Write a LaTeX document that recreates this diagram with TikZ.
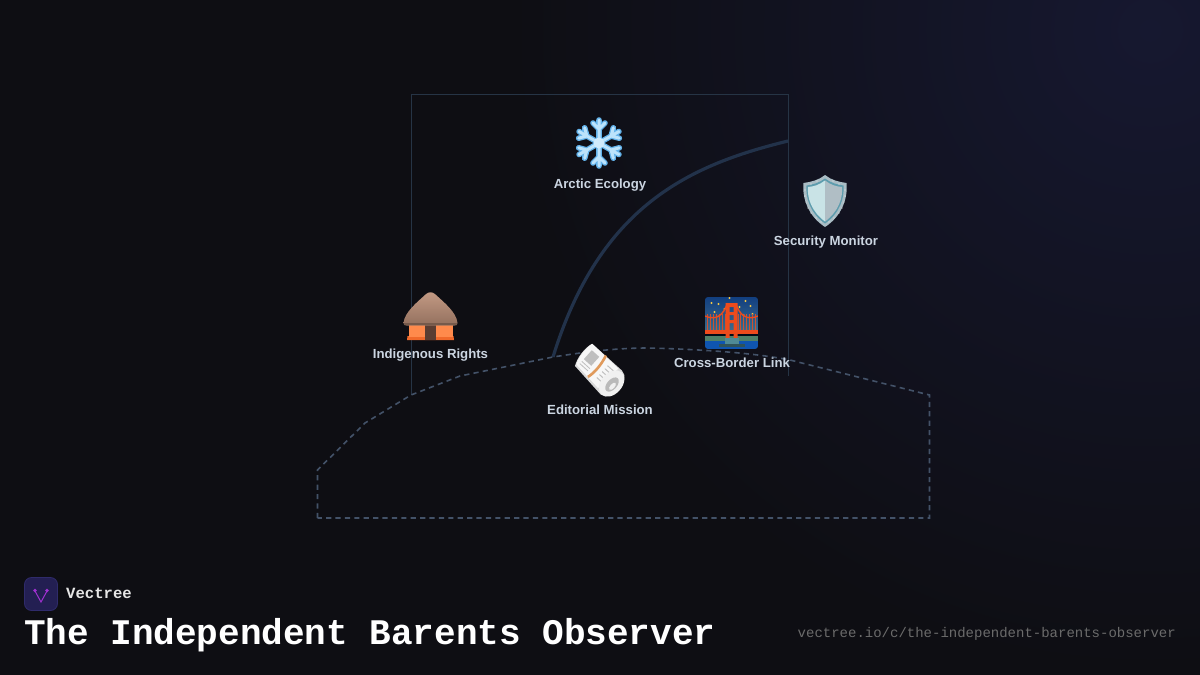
\documentclass[tikz,border=0pt]{standalone}
\usepackage{fontspec}
\setmainfont{Liberation Sans}
\setmonofont{Liberation Mono}
\usetikzlibrary{positioning}
\definecolor{pagebg}{HTML}{0E0E13}
\definecolor{glowblue}{HTML}{161830}
\definecolor{framecol}{HTML}{263445}
\definecolor{curvecol}{HTML}{22324A}
\definecolor{dashcol}{HTML}{435268}
\definecolor{labelcol}{HTML}{CBD5E1}
\definecolor{flakeout}{HTML}{62B2EA}
\definecolor{flakein}{HTML}{BCE3FB}
\definecolor{bridgered}{HTML}{EE4B1C}
\definecolor{skytop}{HTML}{123F80}
\definecolor{skylow}{HTML}{3F6F8C}
\definecolor{bankcol}{HTML}{4E8068}
\definecolor{watercol}{HTML}{0F55B0}
\definecolor{piercol}{HTML}{4F8A96}
\definecolor{starcol}{HTML}{F6C945}
\definecolor{hutroof}{HTML}{C39A84}
\definecolor{hutlow}{HTML}{93705E}
\definecolor{hutwall}{HTML}{FF8A4C}
\definecolor{hutbase}{HTML}{F0692B}
\definecolor{hutdoor}{HTML}{5A3D32}
\definecolor{shieldrim}{HTML}{A9BCC4}
\definecolor{shieldline}{HTML}{5D9CAD}
\definecolor{shieldleft}{HTML}{C9E3E6}
\definecolor{shieldright}{HTML}{B0BEC5}
\definecolor{logofill}{HTML}{231F52}
\definecolor{logoline}{HTML}{2F2B6B}
\definecolor{logotree}{HTML}{A030D0}
\definecolor{paperband}{HTML}{E09A5C}
\tikzset{
  frameline/.style={draw=framecol,line width=1pt},
  curveline/.style={draw=curvecol,line width=3.2pt},
  dashline/.style={draw=dashcol,line width=1.6pt,dash pattern=on 5.2pt off 4.2pt},
  iconlabel/.style={anchor=base,text=labelcol,font=\fontsize{13.2}{15}\selectfont\bfseries,inner sep=0pt},
  pics/flake/.style={code={
    \foreach \a in {30,90,150,210,270,330} {
      \begin{scope}[rotate=\a]
        \draw[flakeout,line width=5.6pt,line cap=round] (0,0) -- (23,0) (14,0) -- (20,6) (14,0) -- (20,-6);
      \end{scope}
    }
    \foreach \a in {30,90,150,210,270,330} {
      \begin{scope}[rotate=\a]
        \draw[flakein,line width=3pt,line cap=round] (0,0) -- (23,0) (14,0) -- (20,6) (14,0) -- (20,-6);
      \end{scope}
    }
    \fill[flakein!70!white] (0,0) circle (5.5);
  }},
  pics/shield/.style={code={
    \fill[shieldrim] (0,-26) .. controls (6,-21) and (14,-19) .. (21.5,-18) .. controls (23,-3) and (17,15) .. (0,26) .. controls (-17,15) and (-23,-3) .. (-21.5,-18) .. controls (-14,-19) and (-6,-21) .. (0,-26) -- cycle;
    \fill[shieldline] (0,-22.5) .. controls (6,-18) and (12,-16.5) .. (18.5,-15.5) .. controls (19.5,-3) and (15,12) .. (0,22.5) .. controls (-15,12) and (-19.5,-3) .. (-18.5,-15.5) .. controls (-12,-16.5) and (-6,-18) .. (0,-22.5) -- cycle;
    \fill[shieldleft] (0,-20.5) .. controls (-6,-16) and (-11,-14.5) .. (-17,-14) .. controls (-18,-3) and (-13.5,10.5) .. (0,20.5) -- cycle;
    \fill[shieldright] (0,-20.5) .. controls (6,-16) and (11,-14.5) .. (17,-14) .. controls (18,-3) and (13.5,10.5) .. (0,20.5) -- cycle;
    \foreach \x/\y in {-20/-11,-20/-5,-19/1,-17/7,-14/12,-9/17,-4/21,20/-11,20/-5,19/1,17/7,14/12,9/17,4/21,-14/-17,-8/-20,14/-17,8/-20}
      \fill[white!85!gray] (\x,\y) circle (.55);
  }},
  pics/bridge/.style={code={
    \begin{scope}
      \clip[rounded corners=3pt] (-26.5,-26) rectangle (26.5,26);
      \shade[top color=skytop,bottom color=skylow] (-26.5,-26) rectangle (26.5,10);
      \fill[bankcol] (-26.5,11) rectangle (26.5,18);
      \fill[black!80!skytop] (-26.5,11) rectangle (26.5,13);
      \fill[watercol] (-26.5,18) rectangle (26.5,26);
      \foreach \x/\y in {-17/-11,-20/-20,-7/-14,14/-22,19/-17,8/-16,-2/-25,12/-8,-13/-19,21/-9} \fill[starcol] (\x,\y) circle (1.2);
      \foreach \x in {-24,-21,-18,-15,-12,-9,-6.5,6.5,9,12,15,18,21,24} \draw[bridgered!80!skylow,line width=.8pt] (\x,-9) -- (\x,7);
      \draw[bridgered,line width=1.4pt] (-26.5,-7) .. controls (-15,-2) and (-8,-8) .. (-4,-20) (26.5,-7) .. controls (15,-2) and (8,-8) .. (4,-20);
      \fill[bridgered] (-26.5,6.5) rectangle (26.5,11);
      \fill[bridgered] (-6,-20) rectangle (-2,16) (2,-20) rectangle (6,16);
      \fill[bridgered] (-3,-20) rectangle (3,-16) (-3,-11) rectangle (3,-8) (-3,-3) rectangle (3,0);
      \fill[piercol] (-7,15) rectangle (7,21);
      \fill[piercol!60!black] (-13,21) rectangle (13,23.5);
    \end{scope}
  }},
  pics/hut/.style={code={
    \fill[hutbase] (-23.5,24) -- (23.5,24) -- (23,20) -- (-23,20) -- cycle;
    \fill[hutwall] (-22,8) rectangle (22,21);
    \fill[hutdoor] (-5.5,8) rectangle (5.5,24);
    \shade[top color=hutroof,bottom color=hutlow] (-27,7) .. controls (-26,-4) and (-13,-14) .. (-5,-21.5) .. controls (-2,-24.5) and (2,-24.5) .. (5,-21.5) .. controls (13,-14) and (26,-4) .. (27,7) .. controls (27,9) and (26,9.5) .. (24,9.5) -- (-24,9.5) .. controls (-26,9.5) and (-27,9) .. (-27,7) -- cycle;
    \fill[hutlow!80!black] (-26.5,7) rectangle (26.5,9.3);
  }},
  pics/paper/.style={code={
    \fill[gray!30!white] (-24,-15) -- (16,-15) .. controls (30,-14) and (30,16) .. (16,17) -- (-22,13) .. controls (-26,5) and (-27,-8) .. (-24,-15) -- cycle;
    \fill[white!94!gray] (-24,-15) -- (12,-14) -- (10,14) -- (-22,11) .. controls (-25,5) and (-26,-8) .. (-24,-15) -- cycle;
    \fill[gray!50!white] (-20,-10) rectangle (-10,2);
    \foreach \y in {-9,-5,-1,3,7} \draw[gray!50!white,line width=1pt] (2,\y) -- (11,\y);
    \foreach \y in {5,8} \draw[gray!50!white,line width=.8pt] (-20,\y) -- (-9,\y);
    \draw[paperband,line width=2.6pt] (-6,-15.5) .. controls (-3,-5) and (-3,5) .. (-5,12.5);
    \fill[white!88!gray] (17,1.5) ellipse (10.5 and 15);
    \fill[gray!55!white] (18,2) ellipse (5 and 8.5);
    \fill[white!88!gray] (19.5,3) ellipse (2.2 and 4.5);
  }},
  pics/treelogo/.style={code={
    \draw[logotree,line width=1pt] (-6,-3) -- (0,8) -- (6,-3);
    \fill[logotree] (-6,-3.5) circle (1.8) (6,-3.5) circle (1.8);
  }}
}
\begin{document}
\begin{tikzpicture}[x=1pt,y=-1pt]
\useasboundingbox (0,0) rectangle (1200,675);

\fill[pagebg] (0,0) rectangle (1200,675);
\begin{scope}
  \clip (0,0) rectangle (1200,675);
  \shade[inner color=glowblue,outer color=pagebg] (1150,30) circle (640);
\end{scope}

% frame
\coordinate (frameA) at (411.5,395);
\coordinate (frameB) at (411.5,94.5);
\coordinate (frameC) at (788.5,94.5);
\coordinate (frameD) at (788.5,376);
\draw[frameline] (frameA) -- (frameB) -- (frameC) -- (frameD);

% curve
\coordinate (curveA) at (553,357);
\coordinate (curveB) at (788,141);
\draw[curveline] (curveA) .. controls (600,205) and (690,165) .. (curveB);

% dashed outline
\coordinate (dashA) at (317.5,518);
\coordinate (dashB) at (317.5,470);
\coordinate (dashC) at (365,423);
\coordinate (dashD) at (411,395);
\coordinate (dashE) at (460,376);
\coordinate (dashF) at (553,357);
\coordinate (dashG) at (648,348);
\coordinate (dashH) at (790,360);
\coordinate (dashI) at (929.5,395);
\coordinate (dashJ) at (929.5,518);
\draw[dashline] (dashA) -- (dashB) -- (dashC) -- (dashD) -- (dashE) -- (dashF) .. controls (585,352) and (615,348) .. (dashG) .. controls (690,349) and (750,352) .. (dashH) -- (dashI) -- (dashJ) -- (dashA);

% icons
\pic at (599,143) {flake};
\pic at (825,201) {shield};
\pic at (731.5,323) {bridge};
\pic at (430.5,316) {hut};
\pic[rotate=-42] at (600,371) {paper};

\node[iconlabel] (arctic) at (600,188) {Arctic Ecology};
\node[iconlabel] (security) at (826,245) {Security Monitor};
\node[iconlabel] (rights) at (430.5,358) {Indigenous Rights};
\node[iconlabel] (border) at (732,367) {Cross-Border Link};
\node[iconlabel] (mission) at (600,414) {Editorial Mission};

% footer
\node[draw=logoline,fill=logofill,rounded corners=7pt,minimum size=33pt,inner sep=0pt,line width=.8pt] (logo) at (41,594) {};
\pic at (41,594) {treelogo};
\node[anchor=base west,inner sep=0pt,text=white!90!black,font=\fontsize{15.6}{18}\selectfont\ttfamily\bfseries] (brand) at (66,598) {Vectree};
\node[anchor=base west,inner sep=0pt,text=white,font=\fontsize{36}{40}\selectfont\ttfamily\bfseries] (title) at (24,644.5) {The Independent Barents Observer};
\node[anchor=base east,inner sep=0pt,text=white!42!black,font=\fontsize{14}{16}\selectfont\ttfamily] (link) at (1176,637) {vectree.io/c/the-independent-barents-observer};
\end{tikzpicture}
\end{document}
